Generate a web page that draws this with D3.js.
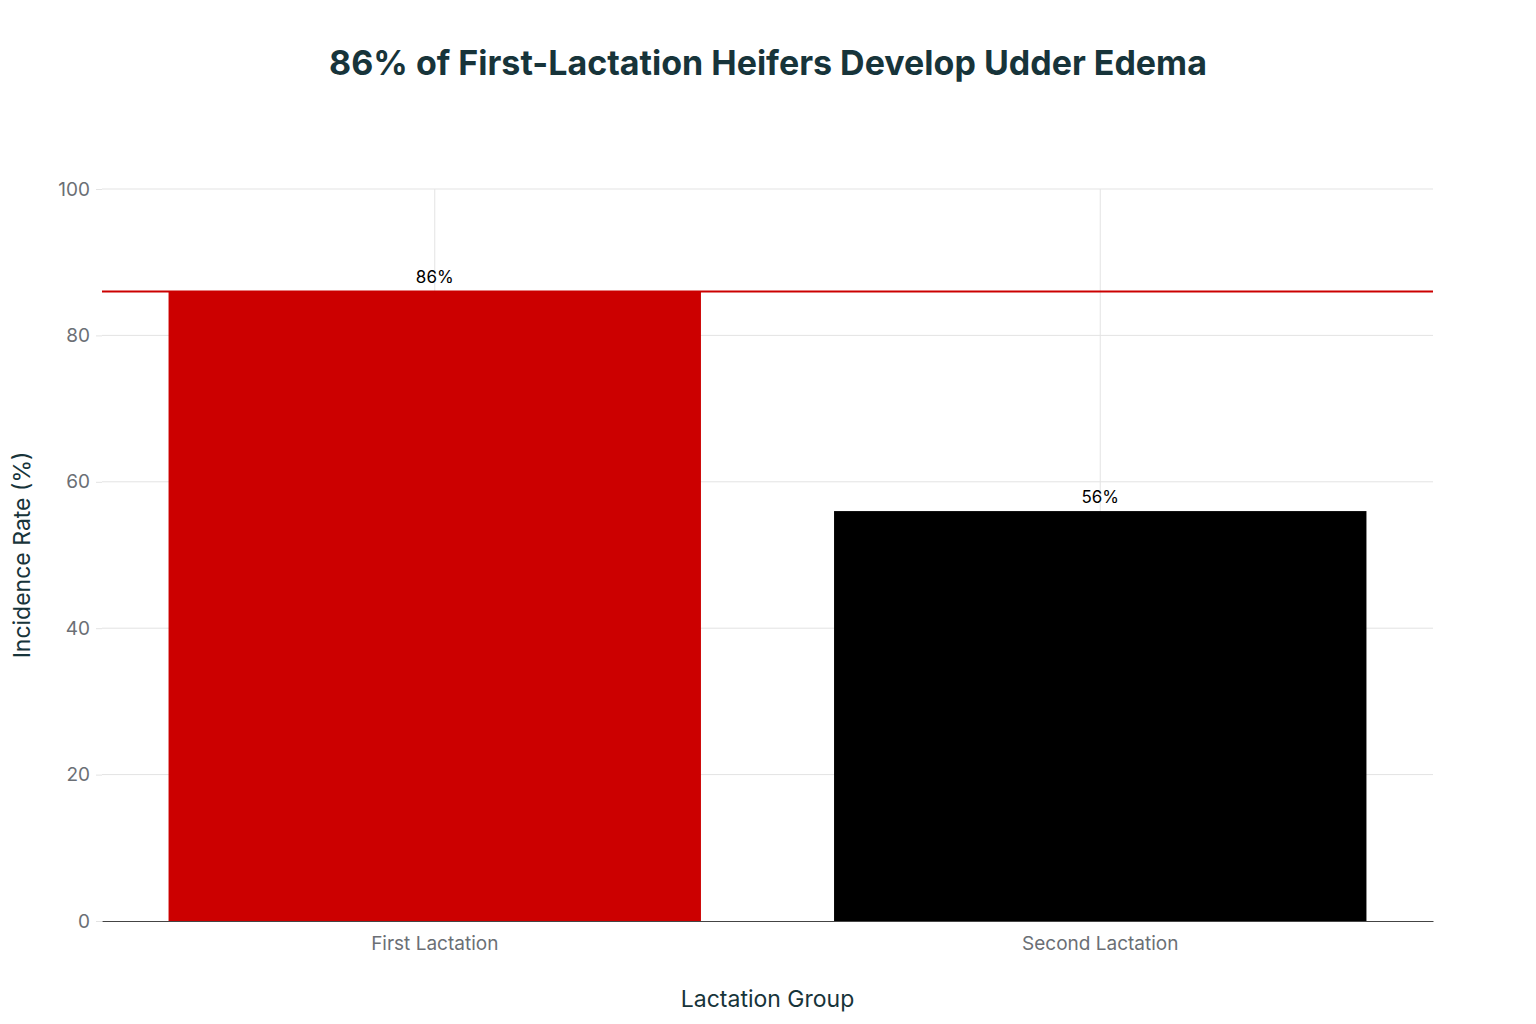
<!DOCTYPE html>
<html><head><meta charset="utf-8">
<script src="https://cdn.jsdelivr.net/npm/d3@7"></script>
<style>body{margin:0;background:#fff;}text{font-family:Inter,"Noto Sans",sans-serif;}</style>
</head><body><svg id="c" width="1536" height="1024"></svg>
<script>
const categories = ["First Lactation", "Second Lactation"];
const values = [86, 56];
const labels = ["86%", "56%"];
const colors = ["#cc0000", "#000000"];
const yTicks = [0, 20, 40, 60, 80, 100];
const refValue = 86;

const svg = d3.select("#c");
const m = {l:102, r:1433, t:189, b:921};
const x = d3.scaleBand().domain(categories).range([m.l, m.r]).paddingInner(0.2).paddingOuter(0.1);
const y = d3.scaleLinear().domain([0, 100]).range([m.b, m.t]);

// grid
svg.append("g").selectAll("line").data(yTicks.filter(d=>d>0)).join("line")
  .attr("x1", m.l).attr("x2", m.r).attr("y1", d=>y(d)).attr("y2", d=>y(d))
  .attr("stroke", "#e3e3e3").attr("stroke-width", 1);
svg.append("g").selectAll("line").data(categories).join("line")
  .attr("x1", d=>x(d)+x.bandwidth()/2).attr("x2", d=>x(d)+x.bandwidth()/2)
  .attr("y1", m.t).attr("y2", m.b).attr("stroke", "#e3e3e3");

// bars
svg.append("g").selectAll("rect").data(categories).join("rect")
  .attr("x", d=>x(d)).attr("width", x.bandwidth())
  .attr("y", (d,i)=>y(values[i])).attr("height", (d,i)=>m.b - y(values[i]))
  .attr("fill", (d,i)=>colors[i]);

// value labels
svg.append("g").selectAll("text").data(categories).join("text")
  .attr("x", d=>x(d)+x.bandwidth()/2).attr("y", (d,i)=>y(values[i]) - 8)
  .attr("text-anchor", "middle").attr("font-size", 17).attr("fill", "#000")
  .text((d,i)=>labels[i]);

// reference line
svg.append("line").attr("x1", m.l).attr("x2", m.r).attr("y1", y(refValue)).attr("y2", y(refValue))
  .attr("stroke", "#cc0000").attr("stroke-width", 2);

// axes
const ya = svg.append("g").attr("transform", `translate(${m.l},0)`)
  .call(d3.axisLeft(y).tickValues(yTicks).tickSize(6).tickPadding(6));
ya.select(".domain").remove();
ya.selectAll(".tick line").attr("stroke", "#e3e3e3");
ya.selectAll("text").attr("font-size", 19).attr("fill", "#6b6f75").attr("font-family", "Inter,sans-serif");

const xa = svg.append("g").attr("transform", `translate(0,${m.b})`)
  .call(d3.axisBottom(x).tickSize(0).tickPadding(16));
xa.select(".domain").attr("stroke", "#444");
xa.selectAll("text").attr("font-size", 19).attr("fill", "#6b6f75").attr("font-family", "Inter,sans-serif");

// titles
svg.append("text").attr("x", 768).attr("y", 75).attr("text-anchor", "middle")
  .attr("font-size", 34).attr("font-weight", "bold").attr("fill", "#17343a")
  .text("86% of First-Lactation Heifers Develop Udder Edema");
svg.append("text").attr("x", (m.l+m.r)/2 + 0).attr("y", 1007).attr("text-anchor", "middle")
  .attr("font-size", 23).attr("fill", "#17343a").text("Lactation Group");
svg.append("text").attr("transform", `translate(30,${(m.t+m.b)/2}) rotate(-90)`)
  .attr("text-anchor", "middle").attr("font-size", 23).attr("fill", "#17343a").text("Incidence Rate (%)");
</script></body></html>
